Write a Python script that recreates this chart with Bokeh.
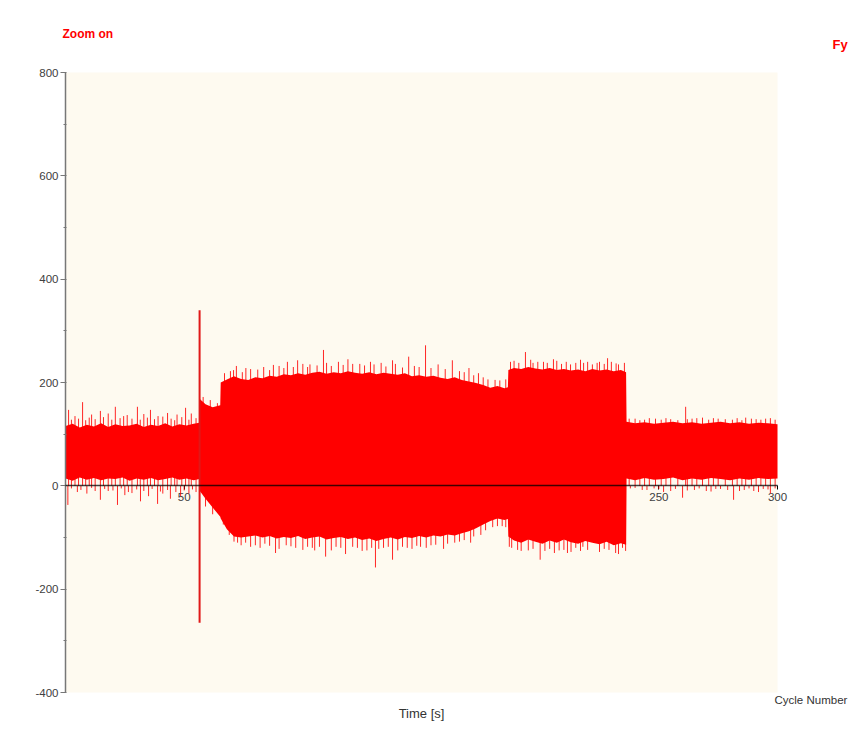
from bokeh.plotting import figure
from bokeh.models import (Range1d, FixedTicker, SingleIntervalTicker, LinearAxis, Label,
                          ColumnDataSource, PrintfTickFormatter)
from bokeh.embed import file_html
from bokeh.resources import INLINE

# ---------------- data ----------------
x_min, x_max = 0, 300          # time axis [s]
y_min, y_max = -400, 800       # force axis
x_ticks = [50, 100, 150, 200, 250, 300]

# envelope of the force signal: time [s], upper edge, lower edge
env_t = [0, 3, 6, 9, 12, 15, 18, 21, 24, 27, 30, 33, 36, 39, 42, 45, 48, 51, 54, 56.4,
         56.6, 59, 62, 65.2,
         65.4, 68, 71, 74, 77, 80, 83, 86, 89, 92, 95, 98, 101, 104, 107, 110, 113, 116, 119, 122,
         125, 128, 131, 134, 137, 140, 143, 146, 149, 152, 155, 158, 161, 164, 167, 170, 173, 176,
         179, 182, 185, 186.4,
         186.6, 189, 192, 195, 198, 201, 204, 207, 210, 213, 216, 219, 222, 225, 228, 231, 234, 236.2,
         236.4, 240, 244, 248, 252, 256, 260, 264, 268, 272, 276, 280, 284, 288, 292, 296, 300]
env_upper = [116, 120, 113, 118, 115, 121, 114, 119, 116, 117, 120, 114, 118, 116, 121, 115, 119, 117, 120, 122,
             168, 158, 152, 156,
             200, 206, 212, 207, 205, 210, 208, 213, 211, 216, 214, 218, 215, 219, 221, 217, 220, 218, 222, 219,
             217, 220, 216, 219, 217, 215, 218, 212, 214, 211, 213, 209, 207, 210, 205, 202, 199, 195,
             190, 193, 189, 191,
             224, 228, 226, 230, 227, 225, 228, 224, 226, 223, 225, 222, 226, 223, 225, 222, 224, 220,
             124, 121, 123, 120, 122, 124, 121, 123, 120, 122, 124, 121, 123, 120, 122, 121, 119]
env_lower = [14, 10, 16, 12, 15, 11, 14, 13, 16, 10, 14, 12, 15, 11, 13, 16, 12, 14, 11, 13,
             -10, -25, -42, -60,
             -63, -84, -98, -100, -98, -96, -100, -97, -102, -99, -101, -97, -103, -100, -98, -104, -101, -99, -103, -100,
             -105, -102, -107, -103, -100, -104, -99, -101, -97, -100, -96, -98, -94, -96, -92, -88, -82, -75,
             -68, -63, -66, -64,
             -98, -106, -110, -104, -108, -112, -106, -110, -104, -109, -112, -107, -110, -113, -108, -115, -111, -114,
             14, 11, 15, 12, 13, 16, 11, 14, 12, 15, 13, 11, 14, 12, 15, 13, 14]

# isolated upward peaks
up_t = [1.3, 4, 7.2, 11, 14.7, 18, 21, 26, 30.3, 33, 35.8, 39, 43, 47, 50.6, 53,
        58, 61, 64,
        70.8, 72, 78, 87.6, 93.5, 97.8, 103, 108.7, 115, 119, 124, 128.5, 133, 137.8, 144.6, 151.7,
        157, 163, 170, 176, 181, 187.5, 193.8, 197, 201.4, 205.6, 209, 212.8, 218.3, 222, 225, 228.4, 233,
        240, 244, 248.6, 255, 261.3, 264, 268.4, 275, 281, 286.6, 291, 295]
up_v = [147, 135, 162, 138, 145, 140, 153, 137, 153, 139, 147, 135, 141, 138, 151, 140,
        172, 166, 160,
        224, 232, 226, 234, 240, 243, 235, 263, 240, 245, 236, 240, 238, 243, 250, 272,
        235, 243, 228, 210, 205, 240, 259, 238, 240, 245, 236, 235, 238, 235, 240, 247, 235,
        130, 128, 130, 129, 153, 130, 132, 130, 128, 132, 129, 130]

# isolated downward peaks
dn_t = [1, 5, 9, 14.7, 18, 21.9, 25, 28, 31.6, 35, 38.8, 41, 44.2, 48.5, 52, 55,
        59, 62,
        72.5, 75.9, 80, 84, 88.5, 93, 97, 102, 105, 109.6, 114, 118, 123, 127, 130.6, 134, 137.8,
        142, 146, 149.6, 154, 159.3, 164, 170.7, 175, 180, 184, 188, 190.5, 195, 200, 204, 208,
        211.5, 215, 218, 223, 227, 231.8, 234.7,
        238, 245, 250, 255, 260, 265, 270, 276, 281.5, 286, 290, 294, 297]
dn_v = [-37, -12, -15, -27, -10, -37, -18, -14, -30, -20, -35, -15, -25, -20, -15, -12,
        -40, -55,
        -110, -110, -115, -112, -130, -115, -120, -118, -125, -137, -118, -132, -120, -125, -158, -120, -143,
        -118, -122, -118, -115, -122, -110, -110, -95, -80, -78, -120, -124, -125, -143, -122, -125,
        -130, -120, -118, -110, -122, -130, -120,
        -5, -8, -6, -10, -23, -8, -10, -6, -27, -8, -10, -6, -15]

# small excursions that make the fuzzy edge of the band
fz_up_t = [2.5, 5.5, 8.5, 10, 12.5, 16, 19.5, 23, 24.5, 28, 31.5, 34.5, 37.5, 41, 44.5, 46, 49, 52, 55,
           67, 69.5, 74.5, 76, 81, 83.5, 86, 90, 92, 96, 100, 102, 106, 110, 112, 117, 121, 126, 130,
           135, 139, 142, 147, 149, 154, 160, 166, 168, 172, 174, 178, 183, 185.5,
           189, 191, 196, 199, 203, 207, 211, 215, 217, 220, 224, 227, 230, 232, 235.5,
           237.5, 242, 246, 251, 253, 258, 262, 266, 271, 273, 278, 283, 285, 289, 293, 297, 299]
fz_up_v = [128, 130, 127, 132, 129, 133, 128, 131, 135, 130, 128, 132, 129, 134, 130, 127, 133, 128, 131,
           218, 222, 220, 228, 225, 230, 224, 232, 228, 230, 236, 230, 233, 238, 232, 234, 236, 233, 235,
           231, 236, 229, 232, 230, 228, 226, 222, 220, 214, 218, 206, 204, 206,
           242, 238, 244, 240, 238, 242, 240, 238, 244, 240, 238, 236, 240, 237, 238,
           130, 127, 131, 128, 131, 127, 129, 131, 128, 131, 129, 131, 127, 130, 128, 131, 128]
fz_dn_t = [2.5, 6.5, 11, 12.5, 16.5, 20, 23.5, 26.5, 30, 33, 36.5, 40, 43, 46.5, 50, 53.5,
           66.5, 69, 71, 74, 78, 82, 86, 90, 95, 100, 104, 107, 112, 116, 121, 125, 129, 132, 136,
           140, 144, 148, 152, 156, 161, 166, 168, 172, 177, 182, 185.5,
           187, 192, 197, 202, 206, 210, 213, 217, 220, 225, 229, 233, 236,
           240, 243, 248, 252, 257, 262, 267, 272, 274, 279, 284, 288, 292, 296, 299]
fz_dn_v = [-5, -8, -4, -10, -6, -9, -5, -12, -7, -10, -6, -11, -8, -12, -9, -7,
           -75, -95, -108, -115, -118, -120, -116, -122, -117, -124, -120, -118, -125, -120, -118, -126, -120, -122, -118,
           -125, -120, -116, -120, -114, -112, -108, -105, -98, -86, -78, -80,
           -118, -126, -122, -126, -130, -124, -128, -126, -124, -128, -124, -132, -126,
           -4, -8, -5, -12, -6, -9, -5, -11, -6, -8, -10, -5, -12, -7, -5]

# single impact event
event_t = [56.5]
event_max = [340]
event_min = [-265]

# ---------------- layout geometry (pixels) ----------------
W, H = 849, 728
FL, FR, FT, FB = 65, 777, 72, 692      # plot-area edges on the canvas
sx = (FR - FL) / (x_max - x_min)
sy = (FB - FT) / (y_max - y_min)
xr = Range1d(x_min - FL / sx, x_max + (W - FR) / sx)
yr = Range1d(y_min - (H - FB) / sy, y_max + FT / sy)

p = figure(width=W, height=H, x_range=xr, y_range=yr, output_backend="svg", toolbar_location=None,
           min_border=0, background_fill_color="white", border_fill_color="white", outline_line_color=None)
p.grid.visible = False

RED = "#FF0000"

# plot area (cream)
p.quad(left=[x_min], right=[x_max], bottom=[y_min], top=[y_max], fill_color="#FEFAF0",
       line_color=None, level="image")

env = ColumnDataSource(dict(t=env_t, hi=env_upper, lo=env_lower))
p.varea(x="t", y1="lo", y2="hi", source=env, fill_color=RED)

for ts, vs in ((up_t, up_v), (dn_t, dn_v), (fz_up_t, fz_up_v), (fz_dn_t, fz_dn_v)):
    src = ColumnDataSource(dict(t=ts, v=vs, b=[0] * len(ts)))
    p.segment(x0="t", y0="b", x1="t", y1="v", source=src, line_color=RED, line_width=1, line_alpha=0.85)

ev = ColumnDataSource(dict(t=event_t, a=event_max, b=event_min))
p.segment(x0="t", y0="b", x1="t", y1="a", source=ev, line_color="#E01818", line_width=2)

# y axis at x = 0
yax = p.yaxis[0]
yax.fixed_location = 0
yax.bounds = (y_min, y_max)
yax.ticker = SingleIntervalTicker(interval=200, num_minor_ticks=2)
yax.formatter = PrintfTickFormatter(format="%d")
yax.axis_line_color = "#777777"
yax.axis_line_width = 1.5
yax.major_tick_line_color = "#777777"
yax.major_tick_out = 5
yax.major_tick_in = 0
yax.minor_tick_line_color = "#777777"
yax.minor_tick_out = 2
yax.minor_tick_in = 1
yax.major_label_text_font = "Liberation Sans"
yax.major_label_text_font_size = "11.5px"
yax.major_label_text_color = "#404040"
yax.major_label_standoff = 2

# x axis labels at y = 0, behind the signal
xax = p.xaxis[0]
xax.fixed_location = 0
xax.bounds = (x_min, x_max)
xax.level = "underlay"
xax.ticker = FixedTicker(ticks=x_ticks)
xax.formatter = PrintfTickFormatter(format="%d")
xax.axis_line_color = None
xax.major_tick_line_color = "black"
xax.major_tick_out = 4
xax.major_tick_in = 0
xax.minor_tick_line_color = None
xax.major_label_text_font = "Liberation Sans"
xax.major_label_text_font_size = "11.5px"
xax.major_label_text_color = "#404040"
xax.major_label_standoff = 3

# zero line drawn over the signal
zero = LinearAxis(fixed_location=0, bounds=(x_min, x_max), ticker=FixedTicker(ticks=[]),
                  axis_line_color="black", axis_line_alpha=0.75, axis_line_width=1.5,
                  major_tick_line_color=None, minor_tick_line_color=None,
                  major_label_text_font_size="0px", level="overlay")
p.add_layout(zero, "below")

# texts
def px_x(px):
    return x_min + (px - FL) / sx

def px_y(py):
    return y_max - (py - FT) / sy

p.add_layout(Label(x=px_x(62), y=px_y(33), text="Zoom on", text_color=RED, text_font="Liberation Sans",
                   text_font_size="12px", text_font_style="bold", text_align="left", text_baseline="middle"))
p.add_layout(Label(x=px_x(832), y=px_y(44), text="Fy", text_color=RED, text_font="Liberation Sans",
                   text_font_size="13px", text_font_style="bold", text_align="left", text_baseline="middle"))
p.add_layout(Label(x=px_x(421), y=px_y(713), text="Time [s]", text_color="#333333", text_font="Liberation Sans",
                   text_font_size="13px", text_align="center", text_baseline="middle"))
p.add_layout(Label(x=px_x(774), y=px_y(699), text="Cycle Number", text_color="#333333", text_font="Liberation Sans",
                   text_font_size="11.5px", text_align="left", text_baseline="middle"))

open("out.html", "w").write(file_html(p, INLINE))
